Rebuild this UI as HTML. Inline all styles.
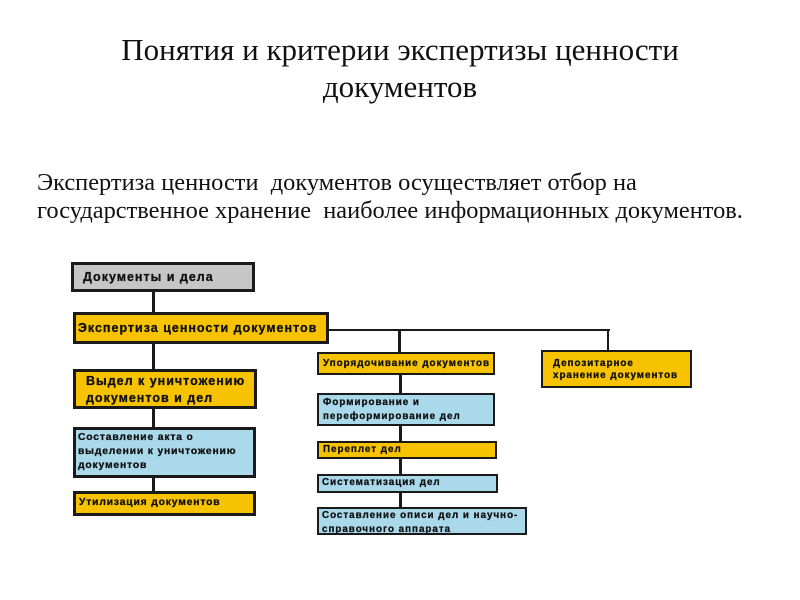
<!DOCTYPE html>
<html><head><meta charset="utf-8">
<style>
html,body{margin:0;padding:0;background:#fff;}
body{width:800px;height:600px;position:relative;overflow:hidden;font-family:"Liberation Sans","DejaVu Sans",sans-serif;}
.t{position:absolute;font-family:"Liberation Serif","DejaVu Serif",serif;color:#111;white-space:nowrap;}
.b{position:absolute;box-sizing:border-box;border:3px solid #1a1a1a;font-weight:bold;color:#111;white-space:nowrap;-webkit-text-stroke:0.3px #111;}
.y{background:#f7c200;}
.c{background:#a9d9ea;}
.g{background:#c6c6c6;}
.l{position:absolute;background:#1a1a1a;}
.big{font-size:12.5px;letter-spacing:1px;}
.mid{font-size:10.3px;letter-spacing:0.85px;}
.sm{font-size:9.8px;letter-spacing:1px;border-width:2.5px;}
</style></head><body>
<div class="t" style="left:0;width:800px;text-align:center;top:31px;font-size:31px;line-height:37px;">Понятия и критерии экспертизы ценности<br>документов</div>
<div class="t" style="left:37px;top:169px;font-size:24.4px;line-height:28px;">Экспертиза ценности&nbsp; документов осуществляет отбор на<br>государственное хранение&nbsp; наиболее информационных документов.</div>

<!-- connectors -->
<div class="l" style="left:152px;top:290px;width:3px;height:24px;"></div>
<div class="l" style="left:152px;top:342px;width:3px;height:29px;"></div>
<div class="l" style="left:152px;top:407px;width:3px;height:22px;"></div>
<div class="l" style="left:152px;top:476px;width:3px;height:17px;"></div>
<div class="l" style="left:327px;top:329px;width:283px;height:2px;"></div>
<div class="l" style="left:398px;top:329px;width:3px;height:25px;"></div>
<div class="l" style="left:607px;top:329px;width:2px;height:23px;"></div>
<div class="l" style="left:399px;top:373px;width:3px;height:22px;"></div>
<div class="l" style="left:399px;top:424px;width:3px;height:19px;"></div>
<div class="l" style="left:399px;top:457px;width:3px;height:19px;"></div>
<div class="l" style="left:399px;top:491px;width:3px;height:18px;"></div>

<!-- left column -->
<div class="b g big" style="left:71px;top:262px;width:184px;height:30px;line-height:24px;padding-left:9px;">Документы и дела</div>
<div class="b y big" style="left:73px;top:312px;width:256px;height:32px;line-height:26px;padding-left:2px;">Экспертиза ценности документов</div>
<div class="b y big" style="left:73px;top:369px;width:184px;height:40px;line-height:17px;padding-left:10px;padding-top:1px;">Выдел к уничтожению<br>документов и дел</div>
<div class="b c mid" style="left:73px;top:427px;width:183px;height:51px;line-height:14px;padding-left:2px;padding-top:1px;">Составление акта о<br>выделении к уничтожению<br>документов</div>
<div class="b y mid" style="left:73px;top:491px;width:183px;height:25px;line-height:17px;padding-left:3px;">Утилизация документов</div>

<!-- middle column -->
<div class="b y sm" style="left:317px;top:352px;width:178px;height:23px;line-height:17px;padding-left:4px;padding-top:1px;">Упорядочивание документов</div>
<div class="b c sm" style="left:317px;top:393px;width:178px;height:33px;line-height:14px;padding-left:4px;padding-top:1px;">Формирование и<br>переформирование дел</div>
<div class="b y sm" style="left:317px;top:441px;width:180px;height:18px;line-height:12px;padding-left:4px;padding-top:1px;">Переплет дел</div>
<div class="b c sm" style="left:317px;top:474px;width:181px;height:19px;line-height:12px;padding-left:3px;padding-top:1px;">Систематизация дел</div>
<div class="b c sm" style="left:317px;top:507px;width:210px;height:28px;line-height:14px;padding-left:3px;">Составление описи дел и научно-<br>справочного аппарата</div>

<!-- right -->
<div class="b y sm" style="left:541px;top:350px;width:151px;height:38px;line-height:12px;padding-left:10px;padding-top:6px;">Депозитарное<br>хранение документов</div>
</body></html>
